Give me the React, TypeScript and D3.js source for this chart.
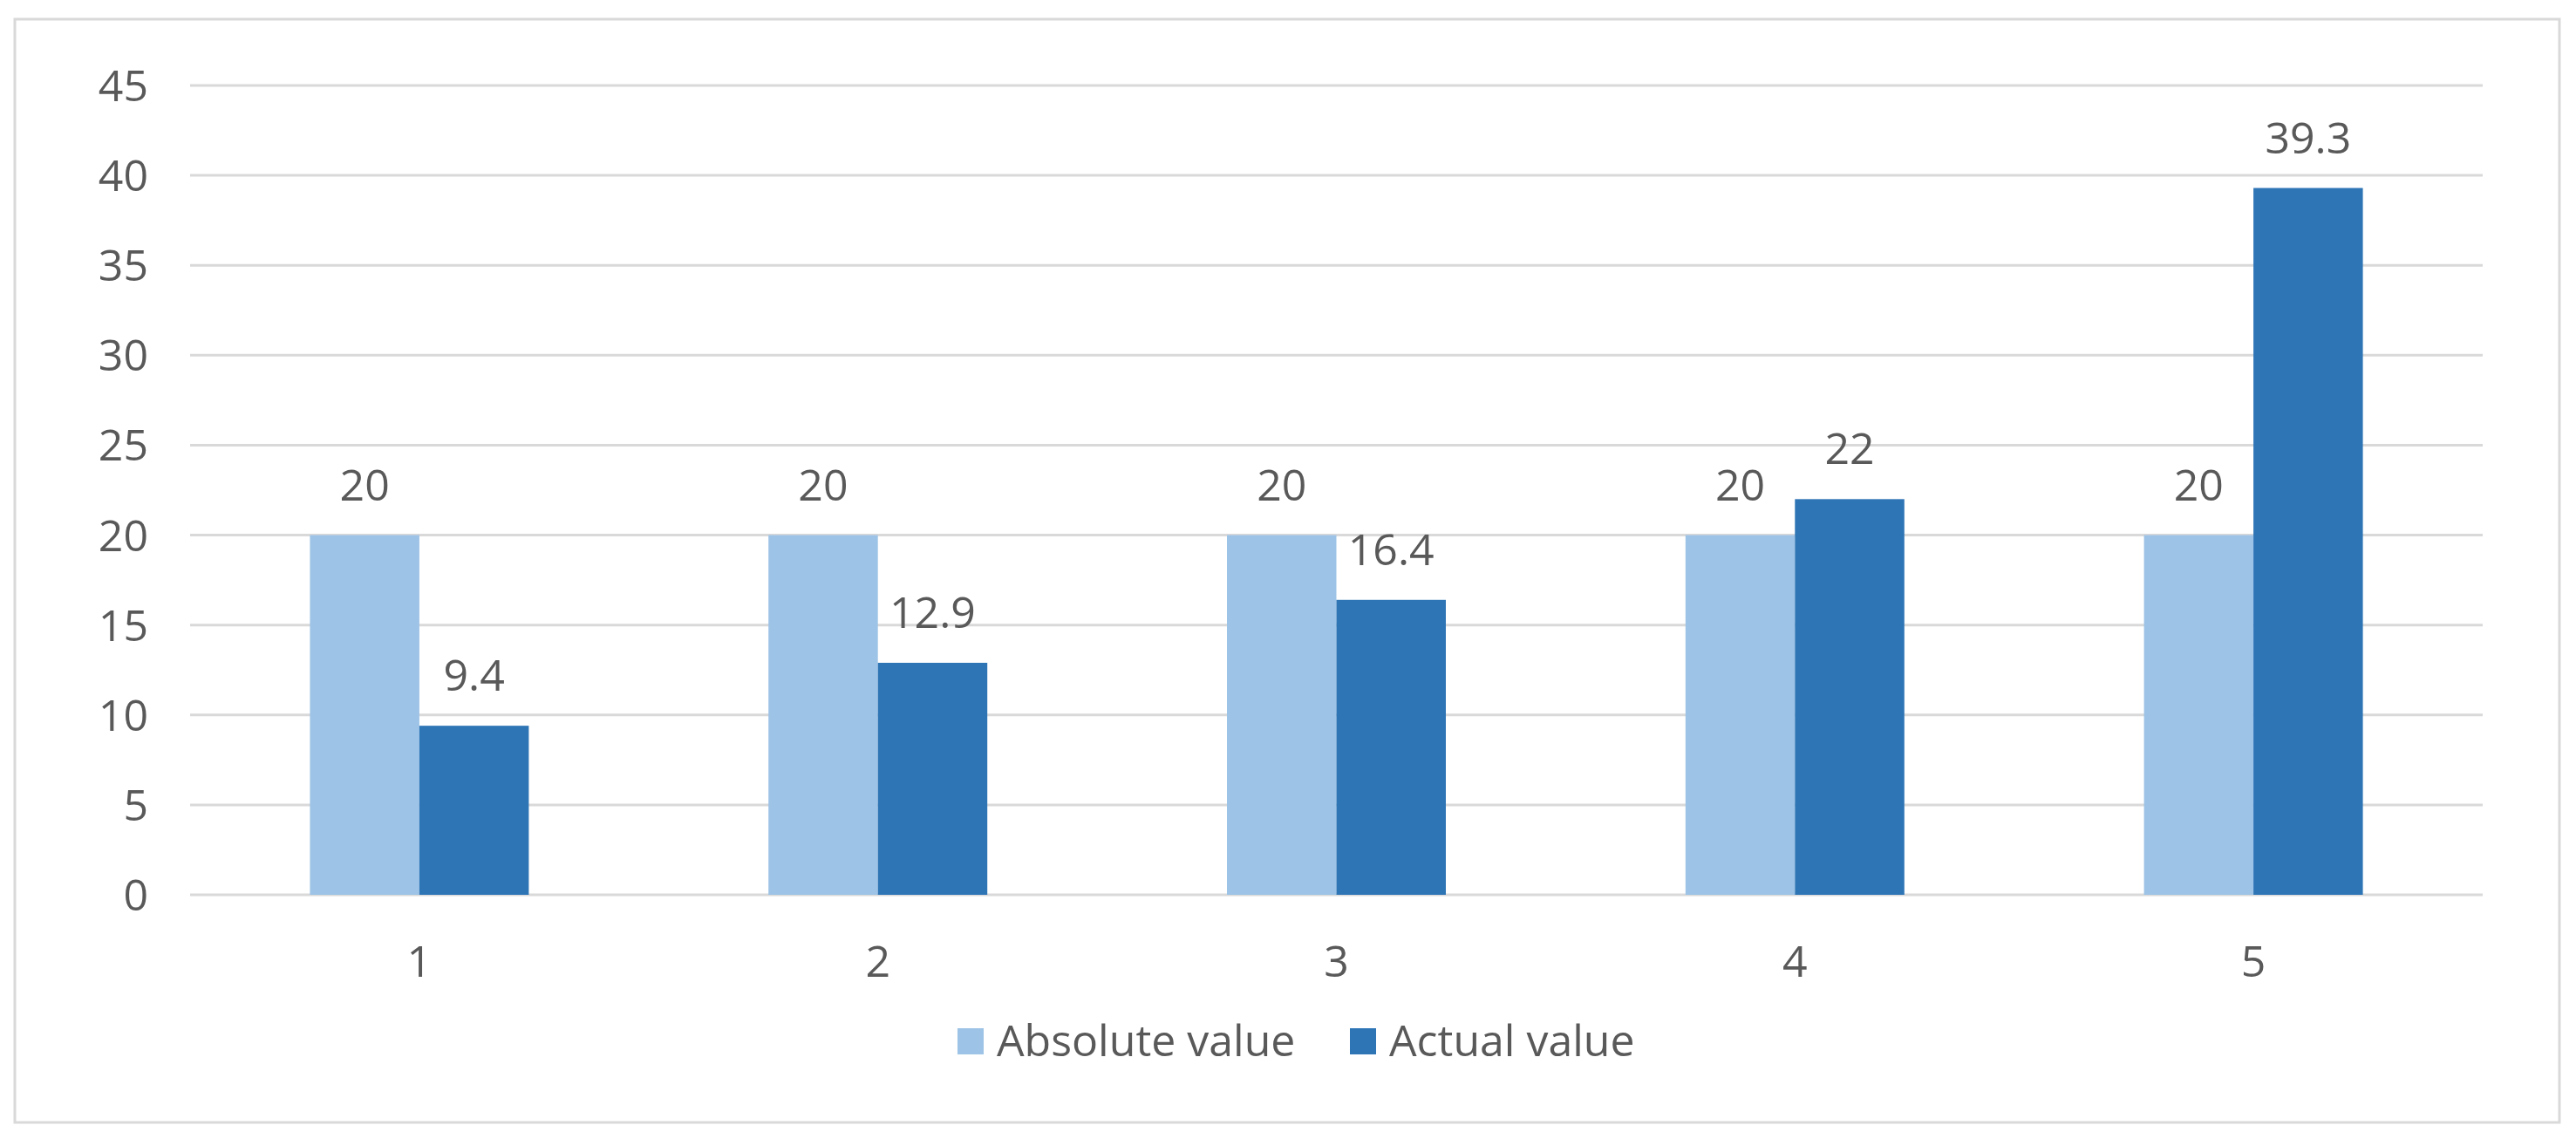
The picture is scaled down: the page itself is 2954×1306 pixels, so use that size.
import React from 'react';
import * as d3 from 'd3';

const categories = ['1', '2', '3', '4', '5'];
const absoluteValues = [20, 20, 20, 20, 20];
const actualValues = [9.4, 12.9, 16.4, 22, 39.3];
const seriesNames = ['Absolute value', 'Actual value'];
const yTickValues = [0, 5, 10, 15, 20, 25, 30, 35, 40, 45];

const width = 2954;
const height = 1306;
const plotLeft = 218;
const plotRight = 2847;
const plotTop = 98;
const plotBottom = 1026;
const colors = ['#9DC3E6', '#2E75B6'];
const gridColor = '#d9d9d9';
const textColor = '#595959';
const fontFamily = '"Open Sans", "Noto Sans", sans-serif';
const fontSize = 50;

const App: React.FC = () => {
  const xScale = d3.scaleBand<string>().domain(categories).range([plotLeft, plotRight]);
  const yScale = d3.scaleLinear().domain([0, 45]).range([plotBottom, plotTop]);
  // excel style gap width 219%
  const barWidth = xScale.bandwidth() / (2 + 2.19);
  const series = [absoluteValues, actualValues];

  return (
    <svg width={width} height={height} style={{display: 'block', position: 'absolute', left: 0, top: 0}}>
      <rect x={0} y={0} width={width} height={height} fill="white"/>
      <rect x={17} y={22} width={2918} height={1265} fill="white" stroke={gridColor} strokeWidth={3}/>
      {yTickValues.map(v => (
        <g key={v}>
          <line x1={plotLeft} x2={plotRight} y1={yScale(v)} y2={yScale(v)} stroke={gridColor} strokeWidth={3}/>
          <text x={170} y={yScale(v) + 18} textAnchor="end" fill={textColor} fontSize={fontSize} fontFamily={fontFamily}>{v}</text>
        </g>
      ))}
      {categories.map((c, i) => {
        const center = (xScale(c) as number) + xScale.bandwidth() / 2;
        return (
          <g key={c}>
            {series.map((vals, s) => {
              const x = center - barWidth + s * barWidth;
              const y = yScale(vals[i]);
              return (
                <g key={s}>
                  <rect x={x} y={y} width={barWidth} height={plotBottom - y} fill={colors[s]}/>
                  <text x={x + barWidth / 2} y={y - 40} textAnchor="middle" fill={textColor} fontSize={fontSize} fontFamily={fontFamily}>{vals[i]}</text>
                </g>
              );
            })}
            <text x={center} y={1120} textAnchor="middle" fill={textColor} fontSize={fontSize} fontFamily={fontFamily}>{c}</text>
          </g>
        );
      })}
      {seriesNames.map((name, s) => {
        const lx = [1098, 1548][s];
        return (
          <g key={name}>
            <rect x={lx} y={1179} width={30} height={30} fill={colors[s]}/>
            <text x={lx + 45} y={1211} fill={textColor} fontSize={fontSize} fontFamily={fontFamily}>{name}</text>
          </g>
        );
      })}
    </svg>
  );
};

export default App;
